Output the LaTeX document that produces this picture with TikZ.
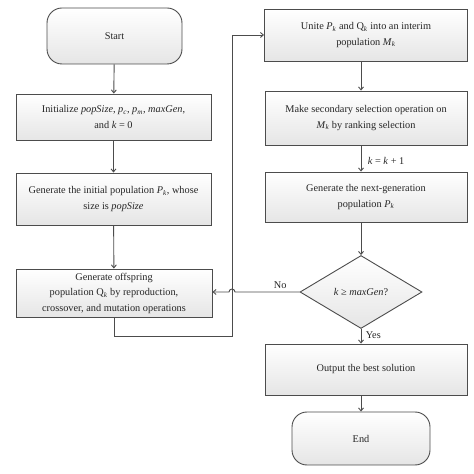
\documentclass[tikz,border=0pt]{standalone}
\usepackage{fontspec}
\setmainfont{Liberation Serif}
\usetikzlibrary{arrows.meta,shapes.geometric,calc}
\newcommand{\vsub}[2]{\textit{#1}\textsubscript{\textit{#2}}}
\begin{document}
\begin{tikzpicture}[x=1pt,y=1pt,
  every node/.style={font=\fontsize{10.3}{15.5}\selectfont, text=black!85},
  proc/.style={draw=black!70, line width=0.9pt, top color=white, bottom color=black!10,
    minimum height=#1, inner sep=0pt, align=center},
  term/.style={proc=#1, rounded corners=15pt},
  dec/.style={diamond, draw=black!70, line width=0.9pt, top color=white, bottom color=black!10,
    minimum width=122pt, minimum height=73pt, inner sep=0pt, aspect=1.67},
  conn/.style={draw=black!70, line width=0.9pt, -{Straight Barb[length=3pt,width=5pt]}},
  lab/.style={font=\fontsize{10.3}{12}\selectfont}]
\useasboundingbox (0,0) rectangle (474,474);
\node[term=56pt, minimum width=135pt] (start) at (114.5,438) {Start};
\node[proc=46pt, minimum width=195pt] (init) at (113.5,357) {Initialize \textit{popSize}, \vsub{p}{c}, \vsub{p}{m}, \textit{maxGen},\\ and \textit{k} = 0};
\node[proc=52pt, minimum width=195pt] (geninit) at (113.5,275) {Generate the initial population \vsub{P}{k}, whose\\ size is \textit{popSize}};
\node[proc=48pt, minimum width=196pt] (offspring) at (114,181) {Generate offspring\\ population Q\textsubscript{\textit{k}} by reproduction,\\ crossover, and mutation operations};
\node[proc=52pt, minimum width=203pt] (unite) at (366,439) {Unite \vsub{P}{k} and Q\textsubscript{\textit{k}} into an interim\\ population \vsub{M}{k}};
\node[proc=54pt, minimum width=202pt] (second) at (366,356) {Make secondary selection operation on\\ \vsub{M}{k} by ranking selection};
\node[proc=50pt, minimum width=202pt] (nextgen) at (366,277) {Generate the next-generation\\ population \vsub{P}{k}};
\node[dec] (dec) at (361,182) {\textit{k} ≥ \textit{maxGen}?};
\node[proc=51pt, minimum width=202pt] (output) at (366,104.5) {Output the best solution};
\node[term=53pt, minimum width=138pt] (end) at (361,35.5) {End};
\coordinate (lb) at (114,138);
\coordinate (rb) at (232,138);
\draw[conn] (start) -- (init);
\draw[conn] (init) -- (geninit);
\draw[conn] (geninit) -- (offspring);
\draw[conn] (offspring.south) -- (lb) -- (rb) |- (unite.west);
\draw[conn] (unite.south -| dec.north) -- (second.north -| dec.north);
\draw[conn] (second.south -| dec.north) -- node[lab, right=3pt, pos=0.6] {\textit{k} = \textit{k} + 1} (nextgen.north -| dec.north);
\draw[conn] (nextgen.south -| dec.north) -- (dec.north);
\draw[conn] (dec.south) -- node[lab, right=1pt, pos=0.45] {Yes} (output.north -| dec.south);
\draw[conn] (output.south -| end.north) -- (end.north);
\draw[conn] (dec.west) -- node[lab, above=0pt, pos=0.3] {No} (235,182) arc[start angle=0, end angle=180, radius=3pt] -- (offspring.east |- dec.west);
\end{tikzpicture}
\end{document}
